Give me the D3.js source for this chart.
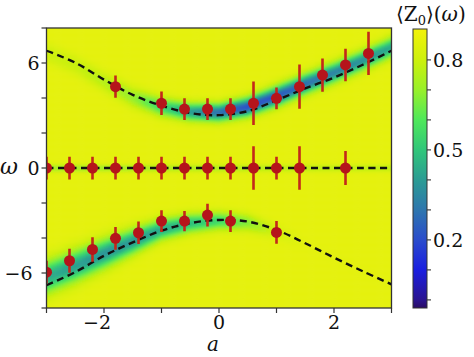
<!DOCTYPE html>
<html><head><meta charset="utf-8">
<script src="https://cdn.jsdelivr.net/npm/d3@7"></script>
<style>body{margin:0;background:#fff;}svg{display:block;}</style>
</head><body>
<svg id="chart" width="474" height="357"></svg>
<script>
// ---------------- data ----------------
const xTicks = [-3, -2, -1, 0, 1, 2, 3];
const xTickLabels = ["", "\u22122", "", "0", "", "2", ""];
const yTicks = [-8, -6, -4, -2, 0, 2, 4, 6, 8];
const yTickLabels = ["", "\u22126", "", "", "0", "", "", "6", ""];
const cbTicks = [0.0, 0.1, 0.2, 0.3, 0.4, 0.5, 0.6, 0.7, 0.8];
const cbTickLabels = ["", "", "0.2", "", "", "0.5", "", "", "0.8"];

// dashed theory curves
const curveA     = [-3, -2.5, -2, -1.5, -1, -0.5, 0, 0.5, 1, 1.5, 2, 2.5, 3];
const curveUpper = [6.70, 6.02, 5.05, 4.18, 3.56, 3.14, 3.02, 3.25, 3.87, 4.55, 5.17, 5.90, 6.70];
const curveMid   = [0, 0, 0, 0, 0, 0, 0, 0, 0, 0, 0, 0, 0];
const curveLower = [-6.70, -5.95, -5.02, -4.25, -3.58, -3.15, -2.97, -3.06, -3.54, -4.30, -5.12, -5.90, -6.65];

// measured points (omega) with error bars
const upperA   = [-1.8, -1.0, -0.6, -0.2, 0.2, 0.6, 1.0, 1.4, 1.8, 2.2, 2.6];
const upperW   = [4.65, 3.70, 3.37, 3.37, 3.37, 3.70, 3.98, 4.65, 5.31, 5.89, 6.55];
const upperErr = [0.64, 0.67, 0.62, 0.62, 0.62, 1.24, 0.62, 1.26, 0.95, 0.93, 1.23];

const midA   = [-3.0, -2.6, -2.2, -1.8, -1.4, -1.0, -0.6, -0.2, 0.2, 0.6, 1.0, 1.4, 2.2];
const midW   = [0, 0, 0, 0, 0, 0, 0, 0, 0, 0, 0, 0, 0];
const midErr = [0.65, 0.65, 0.65, 0.65, 0.65, 0.65, 0.65, 0.65, 0.65, 1.24, 0.65, 1.24, 0.97];

const lowerA   = [-3.0, -2.6, -2.2, -1.8, -1.4, -1.0, -0.6, -0.2, 0.2, 1.0];
const lowerW   = [-5.95, -5.30, -4.65, -4.02, -3.70, -3.03, -3.03, -2.69, -3.03, -3.68];
const lowerErr = [0.65, 0.69, 0.70, 0.65, 0.64, 0.62, 0.58, 0.65, 0.62, 0.65];

// heat-map bands: centre, minimum value and half-width along a
const bandA          = [-3, -2.5, -2, -1.5, -1, -0.5, 0, 0.5, 1, 1.5, 2, 2.5, 3];
const bandUpperC     = [6.6, 5.9, 4.95, 4.05, 3.5, 3.22, 3.18, 3.5, 4.1, 4.8, 5.45, 6.15, 6.9];
const bandUpperDepth = [0.80, 0.79, 0.76, 0.70, 0.55, 0.40, 0.28, 0.20, 0.22, 0.28, 0.33, 0.37, 0.43];
const bandUpperWidth = [0.38, 0.38, 0.38, 0.38, 0.36, 0.34, 0.34, 0.36, 0.38, 0.38, 0.38, 0.38, 0.38];
const bandLowerC     = [-6.25, -5.6, -4.9, -4.2, -3.5, -3.15, -3.0, -3.1, -3.6, -4.3, -5.1, -5.9, -6.6];
const bandLowerDepth = [0.44, 0.41, 0.38, 0.39, 0.43, 0.48, 0.55, 0.67, 0.82, 0.86, 0.86, 0.86, 0.86];
const bandLowerWidth = [0.62, 0.60, 0.55, 0.48, 0.40, 0.36, 0.34, 0.32, 0.30, 0.30, 0.30, 0.30, 0.30];
const bandMidC       = [0, 0, 0, 0, 0, 0, 0, 0, 0, 0, 0, 0, 0];
const bandMidDepth   = [0.71, 0.71, 0.71, 0.72, 0.73, 0.74, 0.74, 0.75, 0.76, 0.76, 0.77, 0.77, 0.77];
const bandMidWidth   = [0.14, 0.14, 0.14, 0.14, 0.14, 0.14, 0.14, 0.14, 0.14, 0.14, 0.14, 0.14, 0.14];
const backgroundValue = 0.865;

// colour map
const cmapStops  = [-0.03, 0.0, 0.1, 0.2, 0.3, 0.4, 0.5, 0.6, 0.7, 0.8, 0.9];
const cmapColors = ["#2a0c64", "#2a1490", "#1a1ee0", "#2a4ccc", "#2e76ae", "#2b9c94", "#30c67a", "#4ee85a", "#98f02a", "#cdf00c", "#f2f20a"];

// ---------------- drawing ----------------
const svg = d3.select("#chart");
const L = 46.5, R = 391.5, T = 28, B = 308;
const x = d3.scaleLinear().domain([-3, 3]).range([L, R]);
const y = d3.scaleLinear().domain([-8, 8]).range([B, T]);
const color = d3.scaleLinear().domain(cmapStops).range(cmapColors).interpolate(d3.interpolateRgb).clamp(true);

const defs = svg.append("defs");
defs.append("clipPath").attr("id", "plotClip")
  .append("rect").attr("x", L).attr("y", T).attr("width", R - L).attr("height", B - T);
const blur = defs.append("filter").attr("id", "soft")
  .attr("x", "-5%").attr("y", "-5%").attr("width", "110%").attr("height", "110%");
blur.append("feGaussianBlur").attr("stdDeviation", 1.3);

// heat field
const lin = (ys) => d3.scaleLinear().domain(bandA).range(ys).clamp(true);
const bands = [
  {c: lin(bandUpperC), d: lin(bandUpperDepth), s: lin(bandUpperWidth)},
  {c: lin(bandLowerC), d: lin(bandLowerDepth), s: lin(bandLowerWidth)},
  {c: lin(bandMidC), d: lin(bandMidDepth), s: lin(bandMidWidth)}
];
function field(a, w) {
  let v = backgroundValue;
  bands.forEach(b => {
    const c = b.c(a), d = b.d(a), s = b.s(a);
    const val = backgroundValue - (backgroundValue - d) * Math.exp(-((w - c) * (w - c)) / (2 * s * s));
    if (val < v) v = val;
  });
  return v;
}
const da = 0.05, dw = 0.1;
const cells = [];
for (let a = -3.2; a <= 3.2 + 1e-9; a += da) {
  for (let w = -8.3; w <= 8.3 + 1e-9; w += dw) {
    cells.push({a: a, w: w, v: field(a, w)});
  }
}
const heatOuter = svg.append("g").attr("clip-path", "url(#plotClip)");
const heat = heatOuter.append("g").attr("filter", "url(#soft)");
const cw = x(da) - x(0), ch = y(0) - y(dw);
heat.selectAll("rect").data(cells).join("rect")
  .attr("x", d => x(d.a) - cw / 2 - 0.3)
  .attr("y", d => y(d.w) - ch / 2 - 0.3)
  .attr("width", cw + 0.6)
  .attr("height", ch + 0.6)
  .attr("fill", d => color(d.v));

// curves + points (clipped)
const plot = svg.append("g").attr("clip-path", "url(#plotClip)");
const line = d3.line().x(d => x(d[0])).y(d => y(d[1])).curve(d3.curveCatmullRom);
[curveUpper, curveMid, curveLower].forEach(arr => {
  plot.append("path")
    .datum(curveA.map((a, i) => [a, arr[i]]))
    .attr("d", line)
    .attr("fill", "none")
    .attr("stroke", "#111")
    .attr("stroke-width", 2.4)
    .attr("stroke-dasharray", "7,4.5");
});

function drawSeries(as, ws, es) {
  const pts = as.map((a, i) => ({a: a, w: ws[i], e: es[i]}));
  const g = plot.append("g");
  g.selectAll("line").data(pts).join("line")
    .attr("x1", d => x(d.a)).attr("x2", d => x(d.a))
    .attr("y1", d => y(d.w - d.e)).attr("y2", d => y(d.w + d.e))
    .attr("stroke", "#c3281a").attr("stroke-width", 2.6);
  g.selectAll("circle").data(pts).join("circle")
    .attr("cx", d => x(d.a)).attr("cy", d => y(d.w))
    .attr("r", 5.5).attr("fill", "#b5141b");
}
drawSeries(upperA, upperW, upperErr);
drawSeries(midA, midW, midErr);
drawSeries(lowerA, lowerW, lowerErr);

// frame
svg.append("rect").attr("x", L).attr("y", T).attr("width", R - L).attr("height", B - T)
  .attr("fill", "none").attr("stroke", "#333").attr("stroke-width", 1.3);

const tickFont = "'DejaVu Serif', serif";
// x axis
const xAxis = svg.append("g");
xTicks.forEach((t, i) => {
  xAxis.append("line").attr("x1", x(t)).attr("x2", x(t)).attr("y1", B).attr("y2", B + 5)
    .attr("stroke", "#333").attr("stroke-width", 1.2);
  if (xTickLabels[i]) {
    xAxis.append("text").attr("x", x(t) + (t < 0 ? -7 : 0)).attr("y", B + 21)
      .attr("text-anchor", "middle").attr("font-family", tickFont).attr("font-size", 19)
      .attr("fill", "#111").text(xTickLabels[i]);
  }
});
// y axis
const yAxis = svg.append("g");
yTicks.forEach((t, i) => {
  yAxis.append("line").attr("x1", L - 5).attr("x2", L).attr("y1", y(t)).attr("y2", y(t))
    .attr("stroke", "#333").attr("stroke-width", 1.2);
  if (yTickLabels[i]) {
    yAxis.append("text").attr("x", L - 7 + (t < 0 ? -7 : 0)).attr("y", y(t) + 7)
      .attr("text-anchor", "end").attr("font-family", tickFont).attr("font-size", 19)
      .attr("fill", "#111").text(yTickLabels[i]);
  }
});
// axis titles
svg.append("text").attr("x", 213).attr("y", 351).attr("text-anchor", "middle")
  .attr("font-family", tickFont).attr("font-style", "italic").attr("font-size", 20)
  .attr("fill", "#111").text("a");
svg.append("text").attr("x", 9).attr("y", 174).attr("text-anchor", "middle")
  .attr("font-family", tickFont).attr("font-style", "italic").attr("font-size", 22)
  .attr("fill", "#111").text("\u03c9");

// colour bar
const cbX = 413, cbW = 14, cbT = 29, cbB = 308;
const cy = d3.scaleLinear().domain([-0.027, 0.903]).range([cbB, cbT]);
const grad = defs.append("linearGradient").attr("id", "cbGrad")
  .attr("x1", 0).attr("x2", 0).attr("y1", 1).attr("y2", 0);
cmapStops.forEach((s, i) => {
  grad.append("stop").attr("offset", (s - cy.domain()[0]) / (cy.domain()[1] - cy.domain()[0]))
    .attr("stop-color", cmapColors[i]);
});
svg.append("rect").attr("x", cbX).attr("y", cbT).attr("width", cbW).attr("height", cbB - cbT)
  .attr("fill", "url(#cbGrad)").attr("stroke", "#333").attr("stroke-width", 1);
const cbAxis = svg.append("g");
cbTicks.forEach((t, i) => {
  cbAxis.append("line").attr("x1", cbX + cbW).attr("x2", cbX + cbW + 4).attr("y1", cy(t)).attr("y2", cy(t))
    .attr("stroke", "#333").attr("stroke-width", 1.1);
  if (cbTickLabels[i]) {
    cbAxis.append("text").attr("x", cbX + cbW + 6).attr("y", cy(t) + 7)
      .attr("font-family", tickFont).attr("font-size", 19).attr("fill", "#111").text(cbTickLabels[i]);
  }
});
const cbLabel = svg.append("text").attr("x", 396).attr("y", 21)
  .attr("font-family", tickFont).attr("font-size", 20).attr("fill", "#111");
cbLabel.append("tspan").text("\u27e8Z");
cbLabel.append("tspan").attr("font-size", 13).attr("dy", 4).text("0");
cbLabel.append("tspan").attr("dy", -4).text("\u27e9(");
cbLabel.append("tspan").attr("font-style", "italic").text("\u03c9");
cbLabel.append("tspan").text(")");
</script>
</body></html>
